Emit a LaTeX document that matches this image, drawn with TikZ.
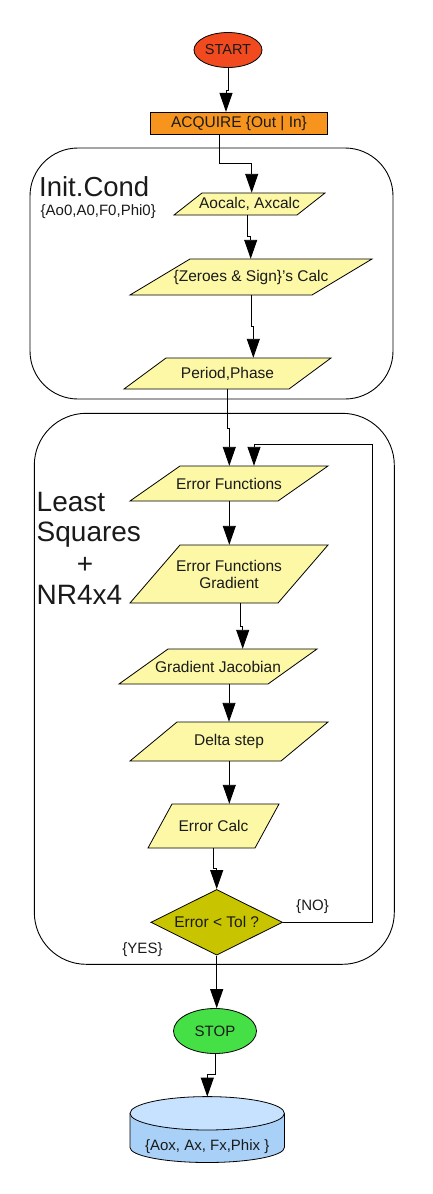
\documentclass[tikz,border=0pt]{standalone}
\usepackage{fontspec}
\setmainfont{Liberation Sans}
\usetikzlibrary{arrows.meta,shapes.geometric}
\definecolor{startred}{HTML}{F04A1E}
\definecolor{acqorange}{HTML}{F7941D}
\definecolor{parayellow}{HTML}{FCF8A6}
\definecolor{decolive}{HTML}{C8C400}
\definecolor{stopgreen}{HTML}{45E045}
\definecolor{dbtop}{HTML}{C6E2FF}
\definecolor{dbbody}{HTML}{A9D1F7}
\definecolor{txt}{HTML}{1A1A1A}
\tikzset{
  base/.style={text=txt, font=\fontsize{15.5}{17}\selectfont, inner sep=0pt},
  startn/.style={base, ellipse, draw=black, line width=0.8pt, fill=startred, minimum width=68, minimum height=35},
  stopn/.style={base, ellipse, draw=black, line width=0.8pt, fill=stopgreen, minimum width=83, minimum height=45},
  acqn/.style={base, rectangle, draw=black, line width=0.8pt, fill=acqorange, minimum width=176.6, minimum height=22},
  parafill/.style={draw=black, line width=0.8pt, fill=parayellow},
  paratext/.style={base, align=center},
  groupbox/.style={draw=black, line width=0.9pt, rectangle, inner sep=0pt},
  decn/.style={base, diamond, aspect=2, draw=black, line width=0.8pt, fill=decolive, minimum width=131.7, minimum height=65.7},
  lbl/.style={base, font=\fontsize{15}{17}\selectfont},
  big/.style={base, font=\fontsize{28}{31}\selectfont, anchor=base west},
  arr/.style={draw=black, line width=0.9pt, -{Triangle[length=19pt,width=13pt]}},
}
\newcommand{\parabox}[7]{%
  \filldraw[parafill] (#2,#5) -- ({#3-#6},#5) -- (#3,#4) -- ({#2+#6},#4) -- cycle;
  \node[paratext, minimum height={#5-#4}] (#1) at ({(#2+#3)/2},{(#4+#5)/2}) {#7};
}
\begin{document}
\begin{tikzpicture}[x=1pt,y=-1pt]
\useasboundingbox[fill=white] (0,0) rectangle (432,1194);

% group boxes
\node[groupbox, rounded corners=48pt, minimum width=363, minimum height=251] (init) at (211.5,273.5) {};
\node[groupbox, rounded corners=52pt, minimum width=360, minimum height=551] (ls) at (214.3,688.8) {};

% group labels
\node[big, font=\fontsize{27.5}{30}\selectfont] (initlbl) at (39,196.7) {Init.Cond};
\node[lbl, anchor=base west] (initsub) at (40.5,215) {\{Ao0,A0,F0,Phi0\}};
\node[big] (ls1) at (36.5,511.7) {Least};
\node[big] (ls2) at (36.5,541.7) {Squares};
\node[big, anchor=base] (ls3) at (85,573) {+};
\node[big] (ls4) at (36.5,604.3) {NR4x4};

% terminals
\node[startn, font=\fontsize{14.5}{16}\selectfont] (start) at (228,50) {START};
\node[acqn] (acq) at (239,123.3) {ACQUIRE \{Out | In\}};

% process steps
\parabox{aocalc}{174}{325}{193}{215}{28}{Aocalc, Axcalc}
\parabox{zeroes}{130}{372}{259}{295}{60}{\{Zeroes \& Sign\}'s Calc}
\parabox{period}{124}{331}{358}{389}{42}{Period,Phase}
\parabox{ef}{130}{328}{466}{501}{50}{Error Functions}
\parabox{efg}{130}{328}{545}{603}{50}{Error Functions\\Gradient}
\parabox{gj}{119}{317}{649}{684}{49}{Gradient Jacobian}
\parabox{delta}{130}{328}{722}{761}{47}{Delta step}
\parabox{errc}{148}{279}{804}{848}{24}{Error Calc}

\node[decn] (dec) at (216.7,922.3) {Error < Tol ?};
\node[lbl] (nolbl) at (312.5,906.5) {\{NO\}};
\node[lbl] (yeslbl) at (142.5,950) {\{YES\}};

\node[stopn, font=\fontsize{15}{17}\selectfont] (stop) at (215,1031) {STOP};

% database cylinder
\fill[dbbody] (130,1113.3) -- (130,1147.5) arc[start angle=180, end angle=0, x radius=77.2, y radius=15] -- (284.4,1113.3) -- cycle;
\draw[line width=0.8pt] (130,1113.3) -- (130,1147.5) arc[start angle=180, end angle=0, x radius=77.2, y radius=15] -- (284.4,1113.3);
\filldraw[fill=dbtop, draw=black, line width=0.8pt] (207.2,1113.3) ellipse[x radius=77.2, y radius=16.7];
\node[lbl] (db) at (207.2,1147) {\{Aox, Ax, Fx,Phix \}};
\coordinate (dbin) at (207.3,1096.6);

% connectors
\coordinate (a1) at (228,90);
\coordinate (a2) at (226,90);
\draw[arr] (start.south) -- (a1) -- (a2) -- (a2 |- acq.north);

\coordinate (b1) at (219.3,163.3);
\coordinate (b2) at (251.7,163.3);
\draw[arr] (acq.south -| b1) -- (b1) -- (b2) -- (b2 |- aocalc.north);

\coordinate (c1) at (247.3,236.7);
\coordinate (c2) at (250.7,236.7);
\draw[arr] (aocalc.south -| c1) -- (c1) -- (c2) -- (c2 |- zeroes.north);

\coordinate (d1) at (251.7,326.7);
\coordinate (d2) at (253.3,326.7);
\draw[arr] (zeroes.south -| d1) -- (d1) -- (d2) -- (d2 |- period.north);

\coordinate (e1) at (227.7,428.3);
\coordinate (e2) at (229.3,428.3);
\draw[arr] (period.south -| e1) -- (e1) -- (e2) -- (e2 |- ef.north);

\coordinate (f1) at (229.3,501);
\draw[arr] (ef.south -| f1) -- (f1 |- efg.north);

\coordinate (g1) at (240,626.7);
\coordinate (g2) at (242.7,626.7);
\draw[arr] (efg.south -| g1) -- (g1) -- (g2) -- (g2 |- gj.north);

\coordinate (h1) at (229,684);
\draw[arr] (gj.south -| h1) -- (h1 |- delta.north);

\coordinate (i1) at (229.3,761);
\draw[arr] (delta.south -| i1) -- (i1 |- errc.north);

\coordinate (j1) at (213.3,868);
\coordinate (j2) at (216.7,868);
\draw[arr] (errc.south -| j1) -- (j1) -- (j2) -- (dec.north);

\coordinate (l1) at (372.3,444.3);
\coordinate (l2) at (254,444.3);
\draw[arr] (dec.east) -| (l1) -- (l2) -- (l2 |- ef.north);

\draw[arr] (dec.south) -- (dec.south |- stop.north);

\coordinate (k1) at (215.7,1074.3);
\coordinate (k2) at (207.3,1074.3);
\draw[arr] (stop.south -| k1) -- (k1) -- (k2) -- (dbin);
\end{tikzpicture}
\end{document}
